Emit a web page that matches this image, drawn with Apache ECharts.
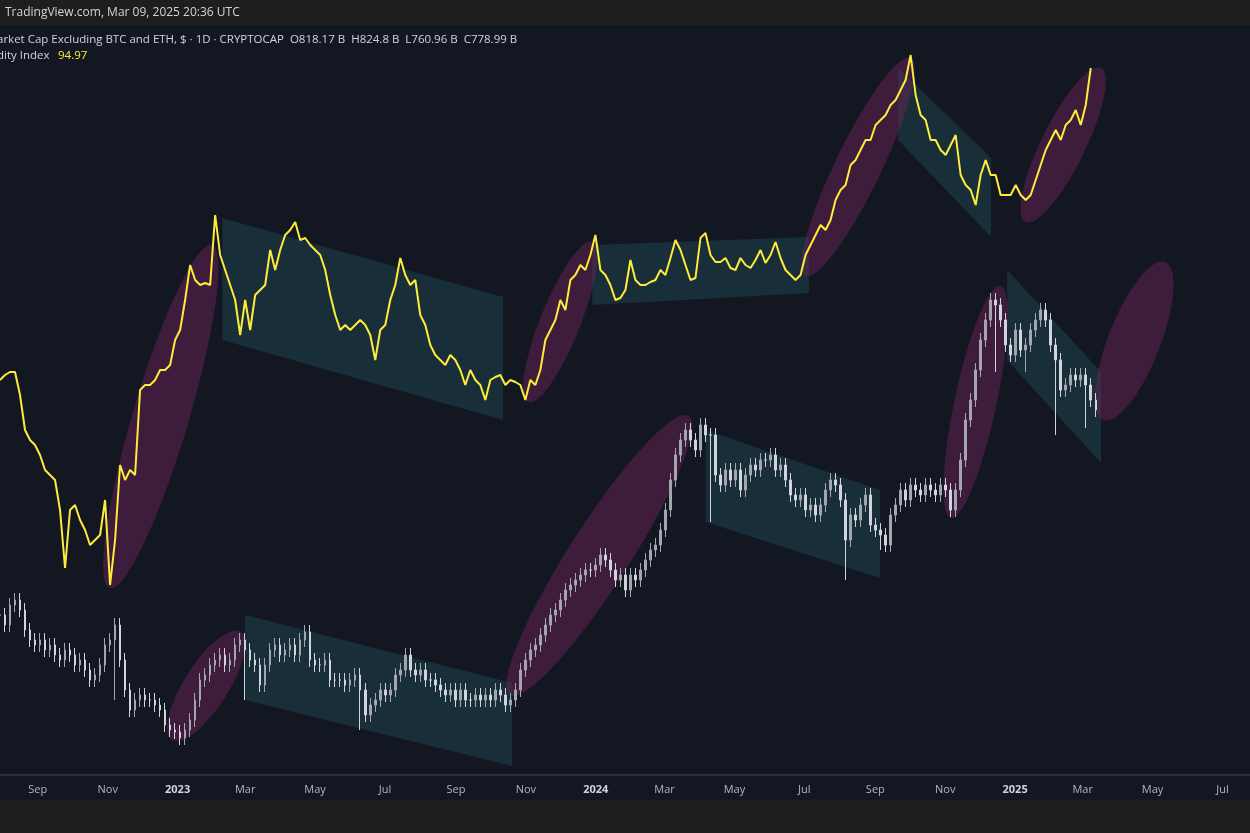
<!DOCTYPE html>
<html><head><meta charset="utf-8">
<script src="https://cdn.jsdelivr.net/npm/echarts@6/dist/echarts.min.js"></script>
<style>html,body{margin:0;padding:0;background:#131722}#c{width:1250px;height:833px}</style>
</head><body><div id="c"></div>
<script>
// Series sampled every ~4.37 days starting 2022-07-30 (values = chart-space level, axis inverted)
const startDate = '2022-07-30';
const stepDays = 4.367;
const liquidity = [380,375,372,372,395,430,440,445,455,470,475,480,510,568,510,505,520,530,545,540,535,500,585,540,465,480,470,475,390,385,385,380,370,370,365,340,330,300,265,280,285,283,285,215,255,270,285,300,335,300,330,295,290,285,250,270,250,235,230,222,240,238,245,250,255,270,295,315,330,325,330,325,320,325,335,360,330,325,300,285,258,275,285,280,315,325,345,355,360,365,355,360,370,385,370,380,385,400,380,377,375,385,380,382,385,400,380,385,370,340,330,320,300,310,280,275,265,270,255,235,270,275,285,300,298,290,260,280,285,285,282,280,270,275,258,240,250,265,280,278,238,233,255,262,262,258,268,270,258,265,268,260,250,263,255,242,258,270,275,280,275,255,245,235,225,230,220,200,190,185,165,160,150,140,140,125,120,115,105,100,90,80,55,95,115,120,140,140,150,155,145,135,175,185,190,205,175,160,175,175,195,195,195,185,195,200,195,180,165,150,140,130,140,125,120,110,125,105,68];
const mcapClose = [615,625,605,600,610,630,640,645,640,650,645,655,660,650,655,665,660,670,680,675,665,645,640,625,660,690,710,700,695,700,700,705,710,725,730,732,738,730,720,700,680,675,665,660,655,665,660,645,640,650,660,665,685,665,650,645,655,650,645,655,640,632,660,665,665,660,680,680,680,685,680,675,690,715,705,700,690,695,690,675,670,655,670,675,670,680,680,685,690,695,690,700,690,700,700,695,700,695,700,690,695,705,700,690,670,660,650,645,635,625,615,610,600,590,585,580,575,570,570,565,555,560,570,580,575,590,575,580,570,560,550,545,530,510,480,455,440,430,440,450,425,435,435,475,485,470,480,470,490,475,465,470,460,460,455,470,465,480,495,500,495,510,505,515,505,490,480,485,500,540,515,520,505,495,525,530,535,545,515,505,490,500,485,490,495,485,490,495,485,490,510,490,460,420,400,370,340,320,300,305,320,345,355,330,350,345,330,320,310,320,345,360,390,385,375,380,375,385,400,410];
const wickSpikes = [[23,700],[49,700],[72,730],[142,522],[169,580],[176,550],[211,435],[217,428],[205,372],[199,372]];
const xTicks = ['2022-09-01','2022-11-01','2023-01-01','2023-03-01','2023-05-01','2023-07-01','2023-09-01','2023-11-01','2024-01-01','2024-03-01','2024-05-01','2024-07-01','2024-09-01','2024-11-01','2025-01-01','2025-03-01','2025-05-01','2025-07-01'];
const monthNames = ['Jan','Feb','Mar','Apr','May','Jun','Jul','Aug','Sep','Oct','Nov','Dec'];
// Annotations: ellipses [end1, end2, half-width px], channels [4 corners]
const ellipses = [
  [['2022-11-03',588],['2023-01-31',245],28],
  [['2022-12-27',740],['2023-02-25',632],22],
  [['2023-11-03',402],['2023-12-29',242],20],
  [['2024-07-02',276],['2024-10-02',58],23],
  [['2025-01-10',222],['2025-03-17',68],22],
  [['2023-10-18',695],['2024-03-22',416],30],
  [['2024-11-06',518],['2024-12-19',286],21],
  [['2025-03-19',420],['2025-05-12',262],26]
];
const channels = [
  [['2023-02-09',218],['2023-10-12',297],['2023-10-12',420],['2023-02-09',340]],
  [['2023-12-29',245],['2024-07-05',237],['2024-07-05',293],['2023-12-29',305]],
  [['2024-09-21',68],['2024-12-11',158],['2024-12-11',237],['2024-09-21',140]],
  [['2023-03-01',615],['2023-10-20',683],['2023-10-20',766],['2023-03-01',700]],
  [['2024-04-06',430],['2024-09-05',490],['2024-09-05',578],['2024-04-06',522]],
  [['2024-12-25',270],['2025-03-17',372],['2025-03-17',463],['2024-12-25',360]]
];

const ts = d => new Date(d + 'T00:00:00Z').getTime();
const t0 = ts(startDate);
const dayMs = 86400000;
const dateAt = i => t0 + i * stepDays * dayMs;
const lineData = liquidity.map((v, i) => [dateAt(i), v]);
const spikeMap = {}; wickSpikes.forEach(s => spikeMap[s[0]] = s[1]);
const candleData = mcapClose.map((c, i) => {
  const o = i > 0 ? mcapClose[i - 1] : c;
  let lo = Math.min(o, c) - 7, hi = Math.max(o, c) + 7;
  if (spikeMap[i] !== undefined) { if (spikeMap[i] > hi) hi = spikeMap[i]; else lo = spikeMap[i]; }
  return [dateAt(i), o, c, lo, hi];
});

const chart = echarts.init(document.getElementById('c'));
chart.setOption({
  backgroundColor: '#131722',
  animation: false,
  graphic: [
    {type:'rect', shape:{x:0,y:0,width:1250,height:25}, style:{fill:'#1e1e1e'}, z:-1},
    {type:'rect', shape:{x:0,y:800,width:1250,height:33}, style:{fill:'#1f1f1f'}, z:-1},
    {type:'text', left:5, top:7, style:{text:'TradingView.com, Mar 09, 2025 20:36 UTC', fill:'#d1d4dc', font:'12px "Open Sans", sans-serif'}},
    {type:'text', left:-3, top:34, style:{text:'arket Cap Excluding BTC and ETH, $ · 1D · CRYPTOCAP  O818.17 B  H824.8 B  L760.96 B  C778.99 B', fill:'#d1d4dc', font:'11.5px "Open Sans", sans-serif'}},
    {type:'text', left:-3, top:50, style:{text:'dity Index', fill:'#d1d4dc', font:'11.5px "Open Sans", sans-serif'}},
    {type:'text', left:58, top:50, style:{text:'94.97', fill:'#ffeb3b', font:'11.5px "Open Sans", sans-serif'}}
  ],
  grid: {left:0, right:0, top:25, bottom:58},
  xAxis: {
    type:'value', min: ts('2022-07-30'), max: ts('2025-07-25'),
    axisLine:{show:true, lineStyle:{color:'#2a2e39', width:2}},
    axisTick:{show:false}, splitLine:{show:false},
    axisLabel:{
      customValues: xTicks.map(ts),
      margin: 9, color:'#b2b5be', fontSize:11, fontFamily:'"Open Sans", sans-serif',
      formatter: v => { const d = new Date(v); return d.getUTCMonth() === 0 ? '{y|' + d.getUTCFullYear() + '}' : monthNames[d.getUTCMonth()]; },
      rich:{y:{fontWeight:'bold', color:'#d1d4dc', fontSize:11, fontFamily:'"Open Sans", sans-serif'}}
    }
  },
  yAxis: {type:'value', inverse:true, min:25, max:775, show:false, splitLine:{show:false}},
  series: [
    {
      type:'custom', z:1, silent:true,
      data: channels.map((c, i) => [i]),
      renderItem: (params, api) => {
        const pts = channels[params.dataIndex].map(p => api.coord([ts(p[0]), p[1]]));
        return {type:'polygon', shape:{points:pts}, style:{fill:'rgba(30,80,90,0.42)'}};
      }
    },
    {
      type:'custom', z:1, silent:true,
      data: ellipses.map((e, i) => [i]),
      renderItem: (params, api) => {
        const e = ellipses[params.dataIndex];
        const a = api.coord([ts(e[0][0]), e[0][1]]);
        const b = api.coord([ts(e[1][0]), e[1][1]]);
        const cx = (a[0] + b[0]) / 2, cy = (a[1] + b[1]) / 2;
        const len = Math.hypot(b[0] - a[0], b[1] - a[1]) / 2;
        const ang = Math.atan2(b[1] - a[1], b[0] - a[0]);
        return {type:'ellipse', x:cx, y:cy, rotation:-ang, shape:{cx:0, cy:0, rx:len, ry:e[2]}, style:{fill:'rgba(115,35,90,0.45)'}};
      }
    },
    {
      type:'candlestick', z:3, data:candleData, barWidth:2,
      itemStyle:{color:'#d1d4dc', color0:'#a3a6af', borderColor:'#d1d4dc', borderColor0:'#a3a6af', borderWidth:1}
    },
    {
      type:'line', z:4, data:lineData, showSymbol:false, symbol:'none',
      lineStyle:{color:'#ffeb3b', width:2}
    }
  ]
});
</script></body></html>
